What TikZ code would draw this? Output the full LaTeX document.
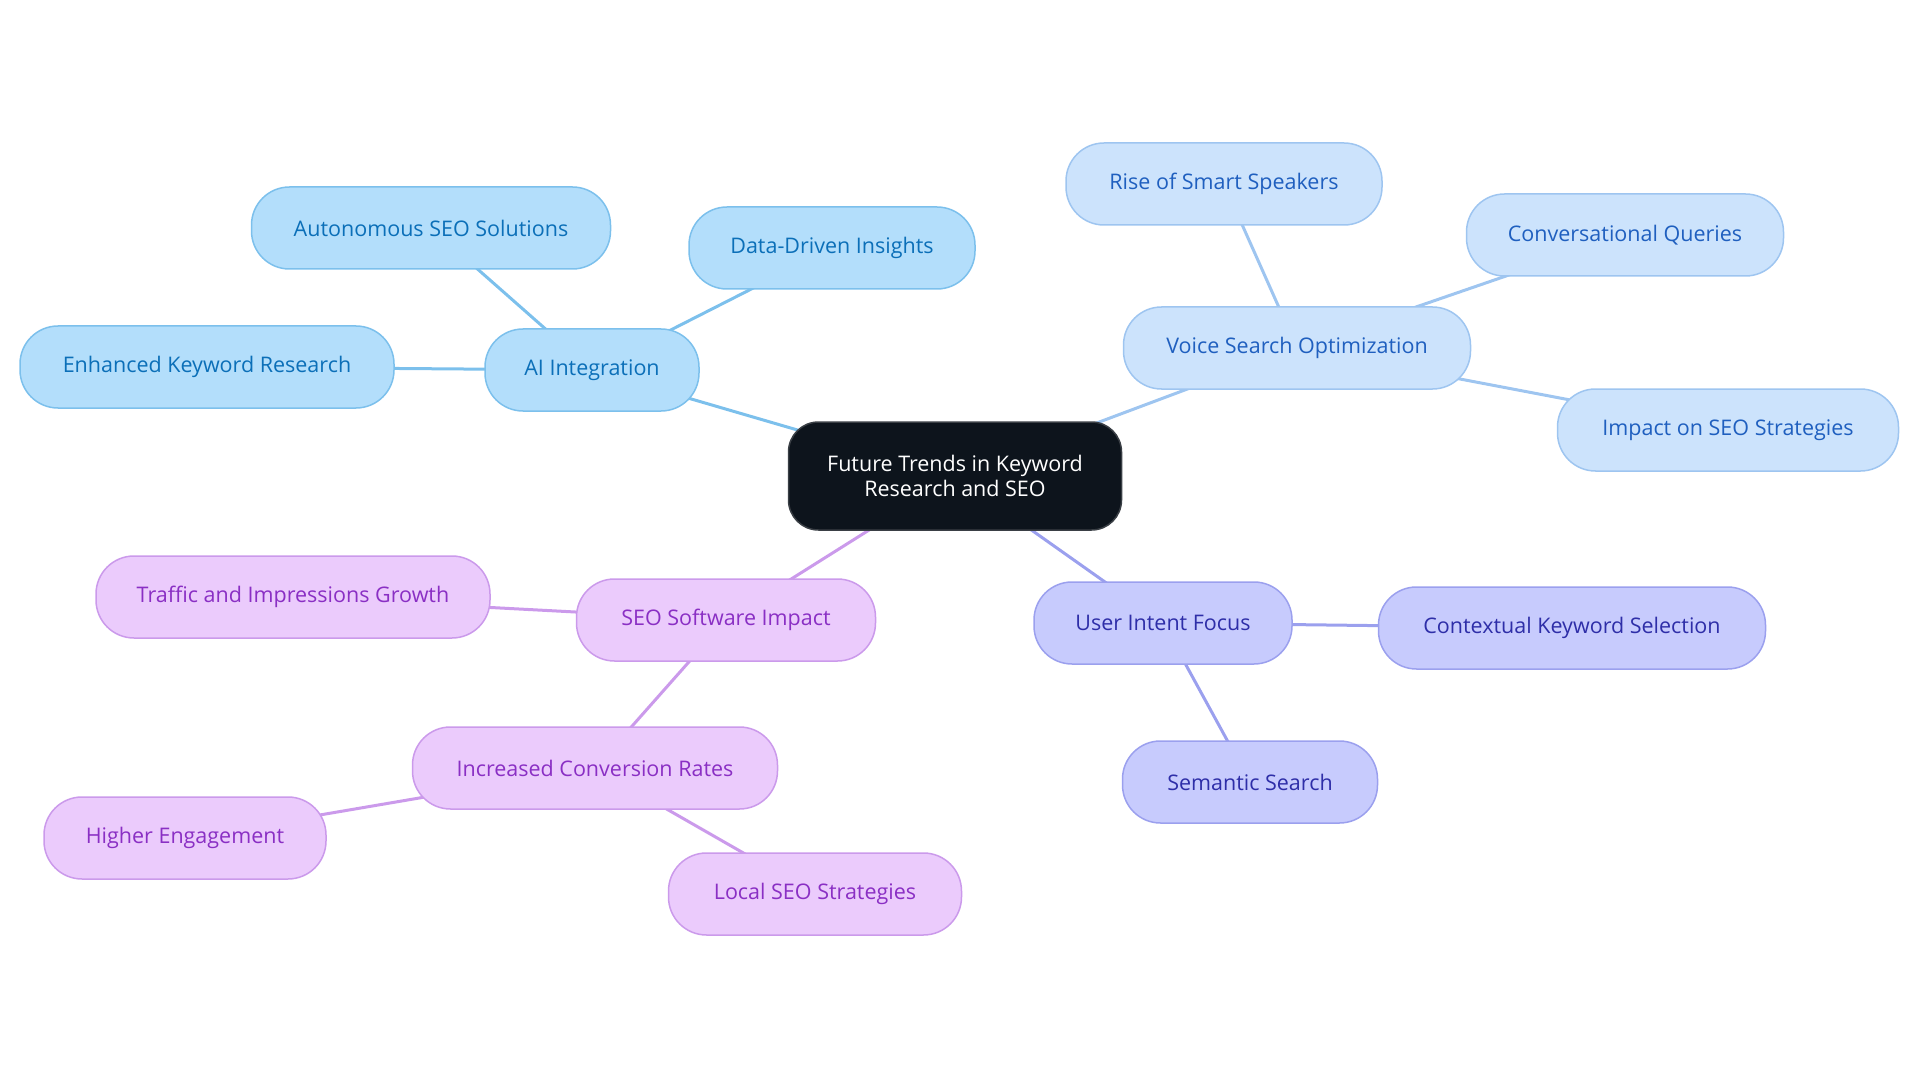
\documentclass[tikz,border=0pt]{standalone}
\usepackage{fontspec}
\setmainfont{Open Sans}
\usetikzlibrary{backgrounds}
\definecolor{aifill}{HTML}{B3DEFB}
\definecolor{aidraw}{HTML}{7CC0EC}
\definecolor{aitext}{HTML}{0B6FB8}
\definecolor{vofill}{HTML}{CCE3FC}
\definecolor{vodraw}{HTML}{9EC5F0}
\definecolor{votext}{HTML}{1F5FBF}
\definecolor{uifill}{HTML}{C7CBFD}
\definecolor{uidraw}{HTML}{9BA0EE}
\definecolor{uitext}{HTML}{2E2EA8}
\definecolor{sefill}{HTML}{EBCBFC}
\definecolor{sedraw}{HTML}{CB9AEB}
\definecolor{setext}{HTML}{8A2FC4}
\definecolor{cfill}{HTML}{0D141C}
\definecolor{cdraw}{HTML}{3A3F45}
\tikzset{
  pill/.style={draw, line width=1.5pt, rounded corners=38pt, minimum height=82pt, inner sep=0pt, font=\fontsize{21.5}{25}\selectfont, align=center},
  ainode/.style={pill, fill=aifill, draw=aidraw, text=aitext},
  vonode/.style={pill, fill=vofill, draw=vodraw, text=votext},
  uinode/.style={pill, fill=uifill, draw=uidraw, text=uitext},
  senode/.style={pill, fill=sefill, draw=sedraw, text=setext},
  centernode/.style={draw=cdraw, line width=1.5pt, fill=cfill, text=white, rounded corners=30pt, minimum height=108pt, minimum width=333pt, inner sep=0pt, font=\fontsize{21.5}{25}\selectfont, align=center},
  ailine/.style={draw=aidraw, line width=3pt},
  voline/.style={draw=vodraw, line width=3pt},
  uiline/.style={draw=uidraw, line width=3pt},
  seline/.style={draw=sedraw, line width=3pt}
}
\begin{document}
\begin{tikzpicture}[x=1pt,y=-1pt]
\useasboundingbox (0,0) rectangle (1920,1083);
\node[centernode] (c) at (955,476) {Future Trends in Keyword\\Research and SEO};
% AI
\node[ainode, minimum width=214pt] (ai) at (592,370) {AI Integration};
\node[ainode, minimum width=359pt] (auto) at (431,228) {Autonomous SEO Solutions};
\node[ainode, minimum width=286pt] (data) at (832,248) {Data-Driven Insights};
\node[ainode, minimum width=374pt] (enh) at (207,367) {Enhanced Keyword Research};
% Voice
\node[vonode, minimum width=347pt] (vo) at (1297,348) {Voice Search Optimization};
\node[vonode, minimum width=316pt] (rise) at (1224,184) {Rise of Smart Speakers};
\node[vonode, minimum width=317pt] (conv) at (1625,235) {Conversational Queries};
\node[vonode, minimum width=341pt] (imp) at (1728,430) {Impact on SEO Strategies};
% User intent
\node[uinode, minimum width=258pt] (ui) at (1163,623) {User Intent Focus};
\node[uinode, minimum width=387pt] (ctx) at (1572,628) {Contextual Keyword Selection};
\node[uinode, minimum width=255pt] (sem) at (1250,782) {Semantic Search};
% SEO software
\node[senode, minimum width=299pt] (se) at (726,620) {SEO Software Impact};
\node[senode, minimum width=394pt] (traf) at (293,597) {Traffic and Impressions Growth};
\node[senode, minimum width=365pt] (inc) at (595,768) {Increased Conversion Rates};
\node[senode, minimum width=282pt] (high) at (185,838) {Higher Engagement};
\node[senode, minimum width=293pt] (loc) at (815,894) {Local SEO Strategies};
\begin{scope}[on background layer]
\draw[ailine] (c.center) -- (ai.center);
\draw[ailine] (ai.center) -- (auto.center);
\draw[ailine] (ai.center) -- (data.center);
\draw[ailine] (ai.center) -- (enh.center);
\draw[voline] (c.center) -- (vo.center);
\draw[voline] (vo.center) -- (rise.center);
\draw[voline] (vo.center) -- (conv.center);
\draw[voline] (vo.center) -- (imp.center);
\draw[uiline] (c.center) -- (ui.center);
\draw[uiline] (ui.center) -- (ctx.center);
\draw[uiline] (ui.center) -- (sem.center);
\draw[seline] (c.center) -- (se.center);
\draw[seline] (se.center) -- (traf.center);
\draw[seline] (se.center) -- (inc.center);
\draw[seline] (inc.center) -- (high.center);
\draw[seline] (inc.center) -- (loc.center);
\end{scope}
\end{tikzpicture}
\end{document}
